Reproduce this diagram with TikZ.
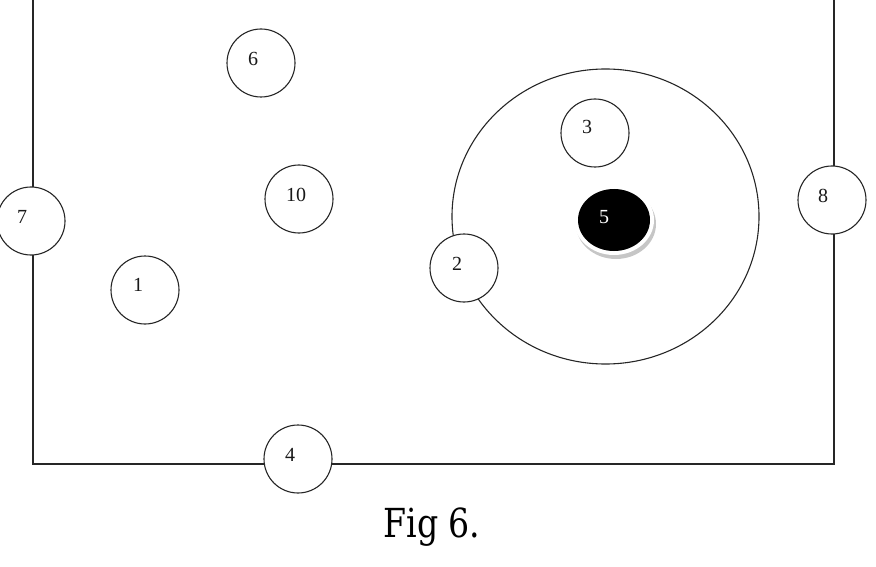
\documentclass[tikz,border=0pt]{standalone}
\usepackage{fontspec}
\setmainfont{Liberation Serif}
\newfontfamily\capfont[FakeStretch=0.83]{DejaVu Serif}
\begin{document}
\begin{tikzpicture}[x=1pt,y=-1pt,
  pt/.style={circle,draw=black!85,line width=1.1pt,fill=white,minimum size=68pt,inner sep=0pt},
  lbl/.style={inner sep=0pt,font=\fontsize{20}{20}\selectfont,text=black!90}]
\useasboundingbox (0,0) rectangle (876,567);
\clip (0,0) rectangle (876,567);
% frame
\coordinate (tl) at (33,-20);
\coordinate (bl) at (33,464);
\coordinate (br) at (834,464);
\coordinate (tr) at (834,-20);
\draw[line width=1.1pt,black!85] (tl) -- (bl) -- (br) -- (tr);
% big circle
\draw[line width=1.1pt,black!85] (605.5,216.5) ellipse [x radius=153.5, y radius=147.5];
% nodes
\node[pt] (n6) at (261,63) {};   \node[lbl] (l6) at (253,59) {6};
\node[pt] (n10) at (299,199) {}; \node[lbl] (l10) at (296,195) {10};
\node[pt] (n7) at (31,221) {};   \node[lbl] (l7) at (22,217) {7};
\node[pt] (n1) at (145,290) {};  \node[lbl] (l1) at (138,285) {1};
\node[pt] (n4) at (298,459) {};  \node[lbl] (l4) at (290,455) {4};
\node[pt] (n2) at (464,268) {};  \node[lbl] (l2) at (457,264) {2};
\node[pt] (n3) at (595,133) {};  \node[lbl] (l3) at (587,127) {3};
\node[pt] (n8) at (832,200) {};  \node[lbl] (l8) at (823,196) {8};
% node 5 with shadow
\fill[gray!45] (616,224) ellipse [x radius=40, y radius=35];
\fill[white] (614,220) ellipse [x radius=40, y radius=35];
\fill[black] (614,220) ellipse [x radius=36, y radius=31];
\node[lbl,text=white] (n5) at (604,217) {5};
% caption
\node[font=\capfont\fontsize{40}{40}\selectfont,inner sep=0pt,anchor=base] (cap) at (432,537) {Fig 6.};
\end{tikzpicture}
\end{document}
